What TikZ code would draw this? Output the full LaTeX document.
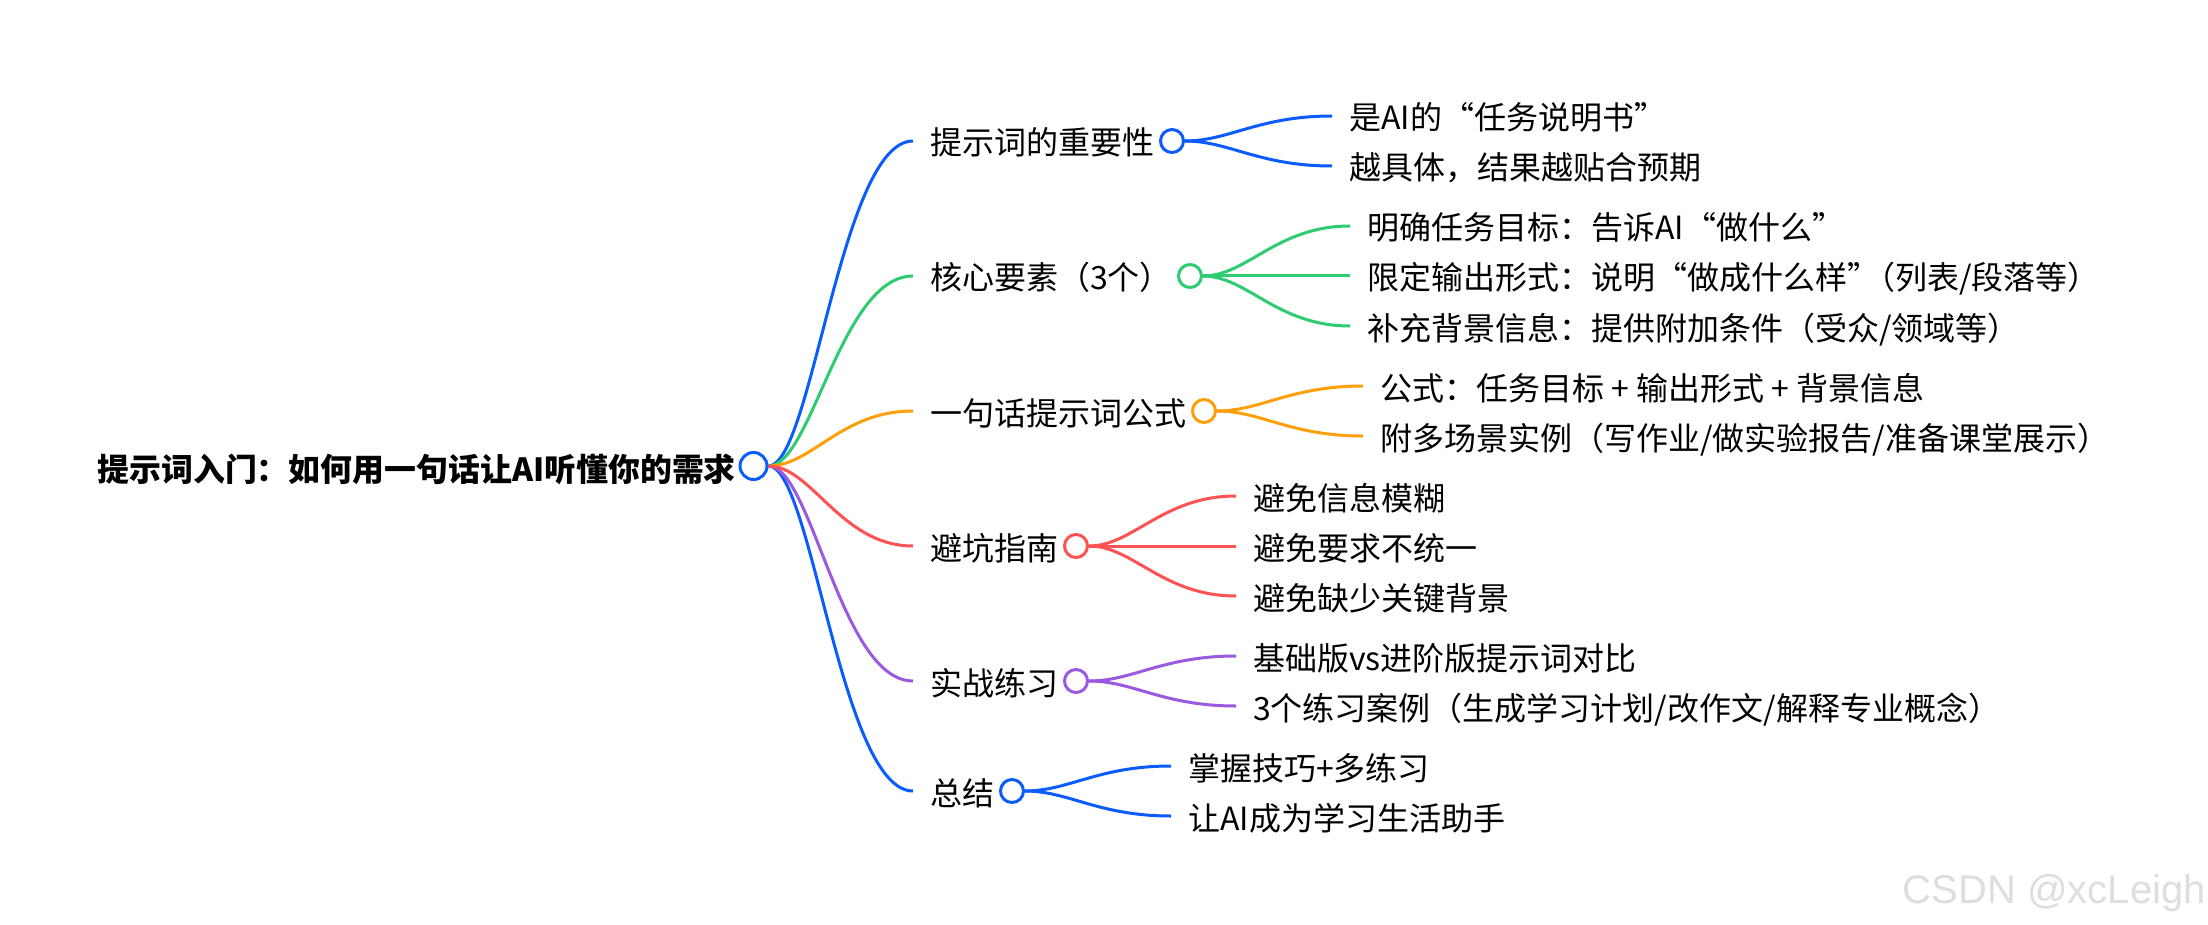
\documentclass[tikz,border=0pt]{standalone}
\usepackage{fontspec}
\setmainfont{Noto Sans CJK SC}
\newfontfamily\wmfont{Liberation Sans}
\usetikzlibrary{calc}
\definecolor{cblue}{HTML}{0A5CFF}
\definecolor{cgreen}{HTML}{2ECC71}
\definecolor{corange}{HTML}{FF9F0A}
\definecolor{cred}{HTML}{FF5252}
\definecolor{cpurple}{HTML}{9B59E0}
\tikzset{
  x=1pt,y=-1pt,
  label/.style={anchor=west,inner xsep=17pt,inner ysep=0pt,text height=28pt,text depth=0pt,text=black,font=\fontsize{32}{36}\selectfont},
  roottext/.style={anchor=east,inner sep=0pt,text height=28pt,text depth=0pt,text=black,font=\fontsize{31.9}{36}\selectfont\bfseries},
  dot/.style={circle,draw=#1,fill=white,line width=3pt,inner sep=0pt,minimum size=23pt},
  rootdot/.style={circle,draw=#1,fill=white,line width=3pt,inner sep=0pt,minimum size=27pt},
  link/.style={draw=#1,line width=3pt},
  watermark/.style={inner sep=0pt,text=black!13,font=\wmfont\fontsize{40}{44}\selectfont},
}
\newcommand{\bumpline}[3]{%
  \draw[link=#1] let \p1=(#2.east),\p2=(#3.west) in
    (\p1) .. controls (\x1+0.3*\x2-0.3*\x1,\y1)
      and (\x1+0.5*\x2-0.5*\x1,\y2) .. (\p2);}
\begin{document}
\begin{tikzpicture}
\useasboundingbox[fill=white] (0,0) rectangle (2208,925);

\node[roottext] (root) at (736,467) {提示词入门：如何用一句话让AI听懂你的需求};
\node[rootdot=cblue] (rc) at (753.5,466) {};

% level 1
\node[label] (a) at (913,141) {提示词的重要性};
\node[label] (b) at (913,276) {核心要素（3个）};
\node[label] (c) at (913,411) {一句话提示词公式};
\node[label] (d) at (913,546) {避坑指南};
\node[label] (e) at (913,681) {实战练习};
\node[label] (f) at (913,791) {总结};

\node[dot=cblue] (ac) at (1172,141) {};
\node[dot=cgreen] (bc) at (1190,276) {};
\node[dot=corange] (cc) at (1204,411) {};
\node[dot=cred] (dc) at (1076,546) {};
\node[dot=cpurple] (ec) at (1076,681) {};
\node[dot=cblue] (fc) at (1012,791) {};

% level 2
\node[label] (a1) at (1332,116) {是AI的“任务说明书”};
\node[label] (a2) at (1332,166) {越具体，结果越贴合预期};
\node[label] (b1) at (1350,226) {明确任务目标：告诉AI“做什么”};
\node[label] (b2) at (1350,276) {限定输出形式：说明“做成什么样”\hspace{-16pt}（列表/段落等）};
\node[label] (b3) at (1350,326) {补充背景信息：提供附加条件（受众/领域等）};
\node[label] (c1) at (1363,386) {公式：任务目标 + 输出形式 + 背景信息};
\node[label] (c2) at (1363,436) {附多场景实例（写作业/做实验报告/准备课堂展示）};
\node[label] (d1) at (1236,496) {避免信息模糊};
\node[label] (d2) at (1236,546) {避免要求不统一};
\node[label] (d3) at (1236,596) {避免缺少关键背景};
\node[label] (e1) at (1236,656) {基础版vs进阶版提示词对比};
\node[label] (e2) at (1236,706) {3个练习案例（生成学习计划/改作文/解释专业概念）};
\node[label] (f1) at (1171,766) {掌握技巧+多练习};
\node[label] (f2) at (1171,816) {让AI成为学习生活助手};

\bumpline{cblue}{rc}{a}
\bumpline{cgreen}{rc}{b}
\bumpline{corange}{rc}{c}
\bumpline{cblue}{rc}{f}
\bumpline{cpurple}{rc}{e}
\bumpline{cred}{rc}{d}

\bumpline{cblue}{ac}{a1}
\bumpline{cblue}{ac}{a2}
\bumpline{cgreen}{bc}{b1}
\bumpline{cgreen}{bc}{b2}
\bumpline{cgreen}{bc}{b3}
\bumpline{corange}{cc}{c1}
\bumpline{corange}{cc}{c2}
\bumpline{cred}{dc}{d1}
\bumpline{cred}{dc}{d2}
\bumpline{cred}{dc}{d3}
\bumpline{cpurple}{ec}{e1}
\bumpline{cpurple}{ec}{e2}
\bumpline{cblue}{fc}{f1}
\bumpline{cblue}{fc}{f2}

\node[watermark,anchor=base east] (wm) at (2206,903) {CSDN @xcLeigh};
\end{tikzpicture}
\end{document}
